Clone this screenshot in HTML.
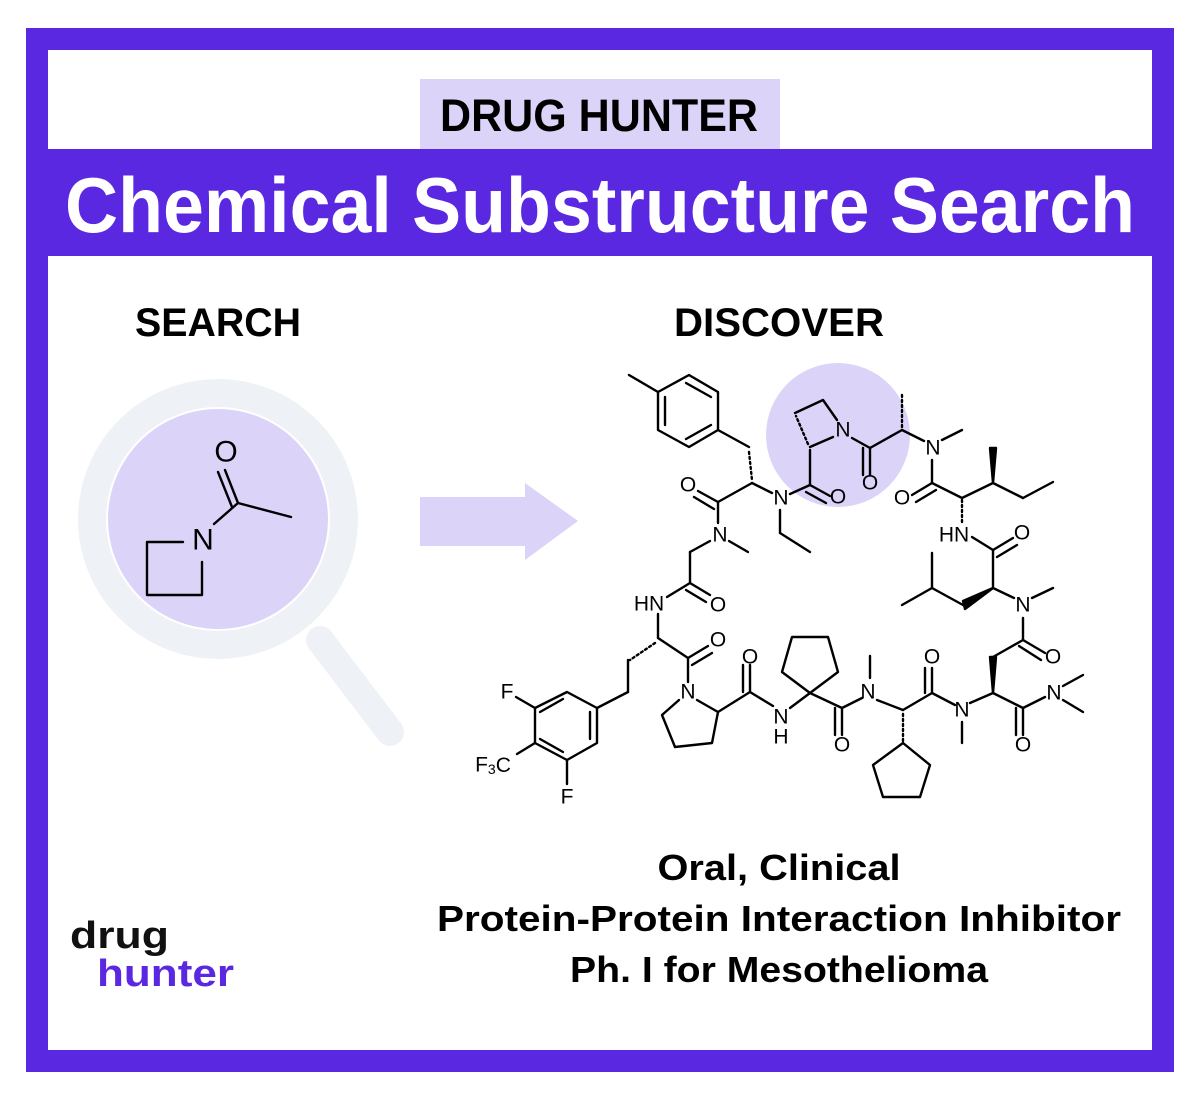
<!DOCTYPE html>
<html><head><meta charset="utf-8"><style>
html,body{margin:0;padding:0;background:#fff}
svg{display:block}
text{font-family:"Liberation Sans",sans-serif}
.m line,.m polyline,.m polygon{stroke:#000;stroke-width:2.4;fill:none;stroke-linecap:round;stroke-linejoin:round}
.m text{font-size:21px;fill:#000;text-anchor:middle;dominant-baseline:central}
</style></head><body>
<svg width="1200" height="1100" viewBox="0 0 1200 1100">
<rect x="0" y="0" width="1200" height="1100" fill="#fff"/>
<rect x="37" y="39" width="1126" height="1022" fill="none" stroke="#5a28e0" stroke-width="22"/>
<rect x="420" y="79" width="360" height="71" fill="#dcd4f8"/>
<text x="599" y="131" font-size="45" font-weight="bold" text-anchor="middle" textLength="318" lengthAdjust="spacingAndGlyphs">DRUG HUNTER</text>
<rect x="37" y="149" width="1126" height="107" fill="#5a28e0"/>
<text x="600" y="232" font-size="78" font-weight="bold" fill="#fff" text-anchor="middle" textLength="1070" lengthAdjust="spacingAndGlyphs">Chemical Substructure Search</text>
<text x="218" y="336" font-size="40" font-weight="bold" text-anchor="middle" textLength="166" lengthAdjust="spacingAndGlyphs">SEARCH</text>
<text x="779" y="336" font-size="40" font-weight="bold" text-anchor="middle" textLength="210" lengthAdjust="spacingAndGlyphs">DISCOVER</text>
<!-- magnifier -->
<line x1="320" y1="640" x2="390" y2="732" stroke="#eef2f6" stroke-width="28" stroke-linecap="round"/>
<circle cx="218" cy="519" r="126" fill="#fff" stroke="#eef2f6" stroke-width="28"/>
<circle cx="218" cy="519" r="110" fill="#dcd4f8"/>
<g class="m">
<polyline points="183,542 147,542 147,595 202,595 202,562"/>
<line x1="214" y1="524" x2="238" y2="503"/>
<line x1="238" y1="503" x2="291" y2="517"/>
<line x1="238" y1="503" x2="225" y2="470"/>
<line x1="232" y1="507" x2="218" y2="472"/>
<text x="203" y="540" style="font-size:30px">N</text>
<text x="226" y="452" style="font-size:30px">O</text>
</g>
<!-- arrow -->
<polygon points="420,497 525,497 525,483 578,521 525,560 525,546 420,546" fill="#dcd4f8"/>
<!-- highlight -->
<circle cx="838" cy="435" r="72" fill="#dcd4f8"/>
<g class="m">
<!-- tolyl -->
<polygon points="689,375 718,392 718,430 689,447 658,430 658,392"/>
<line x1="686" y1="383" x2="711" y2="397"/><line x1="711" y1="425" x2="686" y2="439"/><line x1="665" y1="397" x2="665" y2="425"/>
<line x1="629" y1="375" x2="658" y2="392"/>
<line x1="718" y1="430" x2="749" y2="447"/>
<line x1="749" y1="452" x2="752" y2="480" stroke-dasharray="2,3"/>
<line x1="752" y1="483" x2="718" y2="502"/>
<line x1="752" y1="483" x2="772" y2="493"/>
<line x1="718" y1="502" x2="698" y2="491"/><line x1="714" y1="509" x2="694" y2="497"/>
<text x="688" y="485">O</text>
<line x1="718" y1="502" x2="718" y2="523"/>
<text x="720" y="535">N</text>
<line x1="729" y1="541" x2="748" y2="552"/>
<line x1="710" y1="541" x2="690" y2="552"/>
<line x1="690" y1="552" x2="690" y2="583"/>
<line x1="690" y1="583" x2="710" y2="595"/><line x1="686" y1="590" x2="706" y2="602"/>
<text x="718" y="605">O</text>
<line x1="690" y1="583" x2="667" y2="597"/>
<text x="649" y="604">HN</text>
<line x1="658" y1="614" x2="658" y2="638"/>
<line x1="658" y1="638" x2="688" y2="658"/>
<line x1="655" y1="643" x2="630" y2="660" stroke-dasharray="2,3"/>
<line x1="688" y1="658" x2="708" y2="646"/><line x1="692" y1="665" x2="712" y2="653"/>
<text x="718" y="640">O</text>
<line x1="628" y1="660" x2="628" y2="692"/>
<line x1="628" y1="692" x2="597" y2="708"/>
<polygon points="597,708 597,743 567,760 535,743 535,708 567,692"/>
<line x1="590" y1="712" x2="590" y2="739"/><line x1="563" y1="752" x2="540" y2="739"/><line x1="540" y1="712" x2="563" y2="699"/>
<line x1="535" y1="708" x2="516" y2="697"/>
<text x="507" y="692">F</text>
<line x1="535" y1="743" x2="517" y2="754"/>
<text x="493" y="765">F<tspan font-size="14" dy="4">3</tspan><tspan dy="-4">C</tspan></text>
<line x1="567" y1="760" x2="567" y2="784"/>
<text x="567" y="797">F</text>
<line x1="688" y1="658" x2="688" y2="682"/>
<text x="688" y="692">N</text>
<polyline points="679,700 662,715 675,747 712,743 718,712 697,700"/>
<line x1="718" y1="712" x2="750" y2="692"/>
<line x1="750" y1="692" x2="750" y2="665"/><line x1="743" y1="692" x2="743" y2="665"/>
<text x="750" y="657">O</text>
<line x1="750" y1="692" x2="773" y2="706"/>
<text x="781" y="717">N</text><text x="781" y="737">H</text>
<line x1="790" y1="708" x2="810" y2="693"/>
<polygon points="810,693 782,672 792,637 828,637 838,672"/>
<line x1="810" y1="693" x2="842" y2="708"/>
<line x1="842" y1="708" x2="842" y2="735"/><line x1="835" y1="708" x2="835" y2="735"/>
<text x="842" y="745">O</text>
<line x1="842" y1="708" x2="862" y2="698"/>
<text x="868" y="692">N</text>
<line x1="870" y1="678" x2="870" y2="656"/>
<line x1="877" y1="700" x2="903" y2="710"/>
<line x1="903" y1="714" x2="903" y2="743" stroke-dasharray="2,3"/>
<polygon points="903,743 873,765 883,797 920,797 930,765"/>
<line x1="903" y1="710" x2="932" y2="693"/>
<line x1="932" y1="693" x2="932" y2="668"/><line x1="925" y1="693" x2="925" y2="668"/>
<text x="932" y="657">O</text>
<line x1="932" y1="693" x2="955" y2="705"/>
<text x="962" y="710">N</text>
<line x1="962" y1="722" x2="962" y2="743"/>
<line x1="970" y1="703" x2="993" y2="693"/>
<polygon points="993,693 990,657 996,657" style="fill:#000"/>
<line x1="993" y1="657" x2="1023" y2="640"/>
<line x1="1023" y1="640" x2="1045" y2="653"/><line x1="1019" y1="646" x2="1041" y2="660"/>
<text x="1053" y="657">O</text>
<line x1="1023" y1="640" x2="1023" y2="618"/>
<text x="1023" y="605">N</text>
<line x1="1032" y1="598" x2="1053" y2="588"/>
<line x1="993" y1="693" x2="1023" y2="708"/>
<line x1="1023" y1="708" x2="1023" y2="735"/><line x1="1016" y1="708" x2="1016" y2="735"/>
<text x="1023" y="745">O</text>
<line x1="1023" y1="708" x2="1045" y2="697"/>
<text x="1054" y="693">N</text>
<line x1="1063" y1="686" x2="1083" y2="675"/><line x1="1063" y1="700" x2="1083" y2="712"/>
<line x1="1014" y1="598" x2="993" y2="588"/>
<polygon points="993,588 963,601 965,609" style="fill:#000"/>
<line x1="963" y1="605" x2="932" y2="588"/>
<line x1="932" y1="588" x2="932" y2="553"/><line x1="932" y1="588" x2="902" y2="605"/>
<line x1="993" y1="588" x2="993" y2="550"/>
<line x1="993" y1="550" x2="1013" y2="538"/><line x1="997" y1="557" x2="1017" y2="545"/>
<text x="1022" y="533">O</text>
<line x1="993" y1="550" x2="972" y2="537"/>
<text x="954" y="535">HN</text>
<line x1="962" y1="522" x2="962" y2="500" stroke-dasharray="2,3"/>
<line x1="962" y1="498" x2="932" y2="483"/>
<line x1="932" y1="483" x2="912" y2="495"/><line x1="936" y1="490" x2="916" y2="502"/>
<text x="902" y="498">O</text>
<line x1="932" y1="483" x2="932" y2="460"/>
<text x="933" y="448">N</text>
<line x1="942" y1="440" x2="962" y2="430"/>
<line x1="962" y1="498" x2="993" y2="483"/>
<polygon points="993,483 990,448 996,448" style="fill:#000"/>
<line x1="993" y1="483" x2="1023" y2="498"/><line x1="1023" y1="498" x2="1053" y2="482"/>
<line x1="924" y1="441" x2="902" y2="430"/>
<line x1="902" y1="427" x2="902" y2="393" stroke-dasharray="2,3"/>
<line x1="902" y1="430" x2="870" y2="448"/>
<line x1="870" y1="448" x2="870" y2="475"/><line x1="863" y1="448" x2="863" y2="475"/>
<text x="870" y="483">O</text>
<line x1="870" y1="448" x2="852" y2="438"/>
<text x="843" y="430">N</text>
<polyline points="837,420 823,400 795,413"/>
<line x1="810" y1="447" x2="833" y2="437"/>
<line x1="808" y1="444" x2="796" y2="416" stroke-dasharray="2,3"/>
<line x1="810" y1="450" x2="810" y2="485"/>
<line x1="810" y1="485" x2="830" y2="496"/><line x1="806" y1="492" x2="826" y2="503"/>
<text x="838" y="497">O</text>
<line x1="810" y1="485" x2="790" y2="494"/>
<text x="781" y="498">N</text>
<line x1="780" y1="510" x2="780" y2="533"/><line x1="780" y1="533" x2="810" y2="552"/>
</g>
<text x="779" y="880" font-size="36" font-weight="bold" text-anchor="middle" textLength="243" lengthAdjust="spacingAndGlyphs">Oral, Clinical</text>
<text x="779" y="931" font-size="36" font-weight="bold" text-anchor="middle" textLength="684" lengthAdjust="spacingAndGlyphs">Protein-Protein Interaction Inhibitor</text>
<text x="779" y="982" font-size="36" font-weight="bold" text-anchor="middle" textLength="418" lengthAdjust="spacingAndGlyphs">Ph. I for Mesothelioma</text>
<text x="70" y="948" font-size="38" font-weight="bold" fill="#111" textLength="99" lengthAdjust="spacingAndGlyphs">drug</text>
<text x="97" y="986" font-size="38" font-weight="bold" fill="#5a28e0" textLength="137" lengthAdjust="spacingAndGlyphs">hunter</text>
</svg>
</body></html>
